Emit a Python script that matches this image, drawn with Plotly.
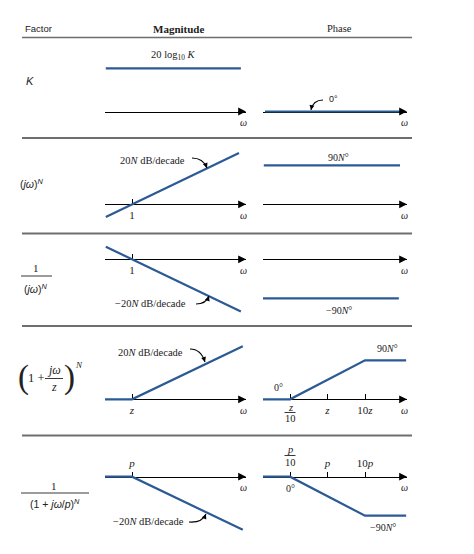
import math
import plotly.graph_objects as go

W, H = 474, 554
BLUE = '#2c5a94'
GRAY = '#6e6e6e'
TXT = '#222222'
SERIF = 'Liberation Serif'
SANS = 'Liberation Sans'

# ---------------- data (frequency normalised to the corner, N = 1) ----------------
factors = ['K', '(jω)^N', '1/(jω)^N', '(1+jω/z)^N', '1/(1+jω/p)^N']

mag_w = [
    [0.2, 800],
    [0.2, 713],
    [0.2, 800],
    [0.19, 1, 900],
    [0.19, 1, 900],
]
mag_db = [
    [48, 48],
    [-14, 57],
    [14, -58],
    [0, 0, 59],
    [0, 0, -59],
]
ph_w = [
    [0.0215, 86],
    [0.02, 86],
    [0.019, 80],
    [0.019, 0.1, 10, 125],
    [0.019, 0.1, 10, 125],
]
ph_deg = [
    [0, 0],
    [90, 90],
    [-90, -90],
    [0, 0, 90, 90],
    [0, 0, -90, -90],
]
mag_tickvals = [[], [1], [1], [1], [1]]
mag_ticktext = [[], ['1'], ['1'], ['<i>z</i>'], ['<i>p</i>']]
ph_tickvals = [[], [], [], [0.1, 1, 10], [0.1, 1, 10]]
ph_ticktext = [[], [], [], ['', '<i>z</i>', '10<i>z</i>'], ['', '<i>p</i>', '10<i>p</i>']]
ph_frac_num = [None, None, None, '<i>z</i>', '<i>p</i>']   # label of the z/10, p/10 tick
tick_side = ['bottom', 'bottom', 'bottom', 'bottom', 'top']

# ---------------- layout geometry (pixels) ----------------
MAG_DOM = (105, 246)
PH_DOM = (263, 407)
MAG_XR = [-0.72, 3.04]
PH_XR = [-1.72, 2.12]
AXIS_Y = [111.5, 204.3, 259.3, 399.3, 476.7]
ROW_DOM = [(45, 128), (142, 228), (236, 322), (330, 430), (440, 545)]
MAG_PX = 0.9          # px per dB
PH_PX = 39 / 90       # px per degree
FRAC_Y = [None, None, None, (407.5, 412.5, 418.5), (449, 455.5, 462)]


def px(x):
    return x / W


def py(y):
    return 1 - y / H


def ax_name(n, kind):
    return kind if n == 1 else f'{kind}{n}'


fig = go.Figure()
layout = dict(width=W, height=H, margin=dict(l=0, r=0, t=0, b=0),
              paper_bgcolor='white', plot_bgcolor='rgba(0,0,0,0)',
              showlegend=False)
annotations = []
shapes = []

n = 0
for r in range(5):
    for c in range(2):
        n += 1
        xa, ya = ax_name(n, 'x'), ax_name(n, 'y')
        dom = MAG_DOM if c == 0 else PH_DOM
        xr = MAG_XR if c == 0 else PH_XR
        scale = MAG_PX if c == 0 else PH_PX
        top, bot = ROW_DOM[r]
        a = AXIS_Y[r]
        xs = mag_w[r] if c == 0 else ph_w[r]
        ys = mag_db[r] if c == 0 else ph_deg[r]
        tv = mag_tickvals[r] if c == 0 else ph_tickvals[r]
        tt = mag_ticktext[r] if c == 0 else ph_ticktext[r]
        side = tick_side[r]
        fig.add_trace(go.Scatter(x=xs, y=ys, mode='lines', xaxis=xa, yaxis=ya,
                                 line=dict(color=BLUE, width=2.2),
                                 hoverinfo='skip'))
        layout['xaxis' if n == 1 else f'xaxis{n}'] = dict(
            type='log', domain=[px(dom[0]), px(dom[1])], range=xr,
            anchor='free', position=py(a), side=side,
            showline=True, linecolor='black', linewidth=1.2,
            showgrid=False, zeroline=False, layer='below traces',
            tickmode='array', tickvals=tv, ticktext=tt,
            ticks=('' if not tv else ('outside' if side == 'top' else 'inside')),
            ticklen=5, tickwidth=1.2, tickcolor='black',
            showticklabels=bool(tv),
            tickfont=dict(family=SERIF, size=11, color=TXT),
            fixedrange=True)
        layout['yaxis' if n == 1 else f'yaxis{n}'] = dict(
            domain=[py(bot), py(top)],
            range=[-(bot - a) / scale, (a - top) / scale],
            anchor=xa, visible=False, fixedrange=True)
        # arrow head on the frequency axis
        annotations.append(dict(xref=xa, yref=ya, x=xr[1], y=0, ax=-9, ay=0,
                                axref='pixel', ayref='pixel', text='',
                                showarrow=True, arrowhead=2, arrowsize=1.3,
                                arrowwidth=1.2, arrowcolor='black'))
        annotations.append(dict(xref=xa, yref=ya, x=xr[1], y=0, text='<i>ω</i>',
                                showarrow=False, xshift=-3, yshift=-11,
                                font=dict(family=SERIF, size=10, color=TXT)))
        # fractional tick label (z/10, p/10)
        if c == 1 and ph_frac_num[r]:
            fx = math.log10(tv[0])
            yn, yb, yd = FRAC_Y[r]
            for txt, yy in [(ph_frac_num[r], yn), ('10', yd)]:
                annotations.append(dict(xref=xa, yref='paper', x=fx, y=py(yy),
                                        text=txt, showarrow=False,
                                        yanchor='middle',
                                        font=dict(family=SERIF, size=10.5, color=TXT)))
            x0 = PH_DOM[0] + (fx - PH_XR[0]) / (PH_XR[1] - PH_XR[0]) * (PH_DOM[1] - PH_DOM[0])
            shapes.append(dict(type='line', xref='paper', yref='paper',
                               x0=px(x0 - 5.5), x1=px(x0 + 5.5), y0=py(yb), y1=py(yb),
                               line=dict(color=TXT, width=0.9)))


def ann(text, x, y, size=10.5, family=SERIF, xanchor='center', color=TXT):
    annotations.append(dict(xref='paper', yref='paper', x=px(x), y=py(y),
                            text=text, showarrow=False, xanchor=xanchor,
                            yanchor='middle',
                            font=dict(family=family, size=size, color=color)))


def hline(x0, x1, y, width=1.0, color=TXT):
    shapes.append(dict(type='line', xref='paper', yref='paper',
                       x0=px(x0), x1=px(x1), y0=py(y), y1=py(y),
                       line=dict(color=color, width=width)))


def curved_arrow(x0, y0, cx, cy, x1, y1):
    shapes.append(dict(type='path', xref='paper', yref='paper',
                       path=f'M {px(x0)} {py(y0)} Q {px(cx)} {py(cy)} {px(x1)} {py(y1)}',
                       line=dict(color='black', width=1.1)))
    dx, dy = cx - x1, cy - y1
    L = math.hypot(dx, dy)
    annotations.append(dict(xref='paper', yref='paper', x=px(x1), y=py(y1),
                            ax=dx / L * 5, ay=dy / L * 5, axref='pixel',
                            ayref='pixel', text='', showarrow=True,
                            arrowhead=2, arrowsize=0.9, arrowwidth=1.1,
                            arrowcolor='black'))


# header
ann('Factor', 23, 29, 9.5, SANS, xanchor='left')
ann('<b>Magnitude</b>', 178, 29, 11)
ann('Phase', 339, 29, 10.5)
hline(22, 412, 37.5, 1.4, GRAY)
for yy in [138, 233.5, 326, 435.5]:
    hline(22, 412, yy, 2.2, GRAY)

# factor column
ann('<i>K</i>', 24, 81, 11, SANS, xanchor='left')
ann('(<i>jω</i>)<sup><i>N</i></sup>', 18, 183, 10.5, SANS, xanchor='left')
ann('1', 36, 268, 11)
hline(21, 52, 276, 0.9)
ann('(<i>jω</i>)<sup><i>N</i></sup>', 36, 288, 10.5, SANS)
ann('(', 23, 377, 33)
ann(')', 69, 377, 33)
ann('1 +', 36, 378, 12.5)
ann('<i>jω</i>', 54, 370, 12)
hline(45, 63, 378.5, 0.9)
ann('<i>z</i>', 54, 387, 12)
ann('<i>N</i>', 79, 365, 9)
ann('1', 54, 486, 11)
hline(21, 89, 493, 0.9)
ann('(1 + <i>jω</i>/<i>p</i>)<sup><i>N</i></sup>', 55, 503, 10.5, SANS)

# row 1
ann('20 log<sub>10</sub> <i>K</i>', 173, 56, 10.5)
ann('0°', 333, 99, 9, SANS)
curved_arrow(323, 100, 313, 100, 311, 110)
# row 2
ann('20<i>N</i> dB/decade', 152, 160, 10.5)
curved_arrow(192, 158, 203, 158, 207, 168)
ann('90<i>N</i>°', 338, 157, 10)
# row 3
ann('−20<i>N</i> dB/decade', 150, 303, 10.5)
curved_arrow(196, 304, 206, 304, 209, 296)
ann('−90<i>N</i>°', 339, 310, 10)
# row 4
ann('20<i>N</i> dB/decade', 150, 352, 10.5)
curved_arrow(190, 349, 201, 349, 205, 362)
ann('0°', 278, 387, 10)
ann('90<i>N</i>°', 387, 348, 10)
# row 5
ann('−20<i>N</i> dB/decade', 148, 521, 10.5)
curved_arrow(189, 522, 202, 523, 206, 514)
ann('0°', 290, 488, 10)
ann('−90<i>N</i>°', 383, 527, 10)

layout['annotations'] = annotations
layout['shapes'] = shapes
fig.update_layout(**layout)
fig.write_html('out.html')
